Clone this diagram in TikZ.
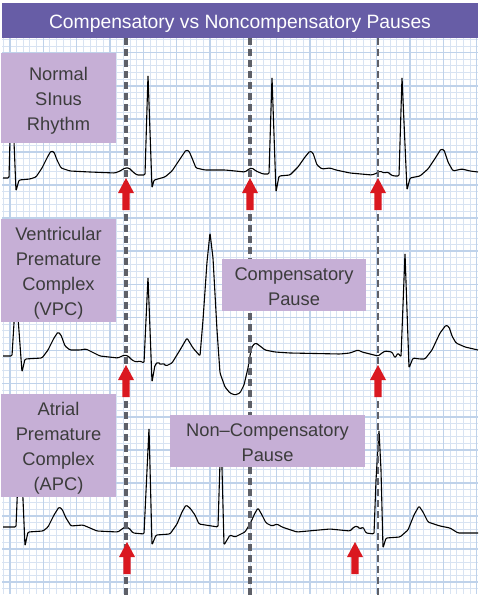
\documentclass[tikz,border=0pt]{standalone}
\usepackage{fontspec}
\setmainfont{Liberation Sans}
\definecolor{titlebar}{HTML}{675DA6}
\definecolor{lilac}{HTML}{C6AFD6}
\definecolor{gridminor}{HTML}{D8E3F2}
\definecolor{gridmajor}{HTML}{BFD2EA}
\definecolor{dashgray}{HTML}{5E6068}
\definecolor{arrowred}{HTML}{DA1820}
\definecolor{labeltext}{HTML}{3C3C3C}
\tikzset{
  labelbox/.style={fill=lilac, inner sep=0pt},
  labeltxt/.style={text=labeltext, align=center, inner sep=0pt,
    font=\fontsize{18.3}{25}\selectfont},
  ecg/.style={black, line width=1.1pt, line join=round, rounded corners=1.2pt},
  pausedash/.style={draw=dashgray, line width=3.2pt, dash pattern=on 7pt off 4pt},
  minorline/.style={gridminor, line width=1pt},
  majorline/.style={gridmajor, line width=1.6pt},
  redarrow/.pic={\fill[arrowred] (0,0) -- (8,15) -- (3.6,15) -- (3.6,32) -- (-3.6,32) -- (-3.6,15) -- (-8,15) -- cycle;}
}
\begin{document}
\begin{tikzpicture}[x=1pt,y=-1pt]
\useasboundingbox (0,0) rectangle (481,597);
\fill[white] (0,0) rectangle (481,597);
% grid
\begin{scope}
\clip (2,38) rectangle (478,594);
\foreach \i in {0,...,71} {\draw[minorline] ({3.33+6.667*\i},38) -- ({3.33+6.667*\i},594);}
\foreach \j in {0,...,83} {\draw[minorline] (2,{39.4+6.62*\j}) -- (478,{39.4+6.62*\j});}
\foreach \i in {1,6,...,71} {\draw[majorline] ({3.33+6.667*\i},38) -- ({3.33+6.667*\i},594);}
\foreach \j in {2,7,...,82} {\draw[majorline] (2,{39.4+6.62*\j}) -- (478,{39.4+6.62*\j});}
\end{scope}
% row 1: normal sinus rhythm
\draw[ecg] (3,178) -- (9,178) -- (11.5,80) -- (16,191) -- (19,180) -- (30,179) -- (36,177) -- (42,168) -- (48,156) -- (51,151) -- (54,152) -- (57,160) -- (61,168) -- (70,171) -- (90,172) -- (115,173) -- (120,171) -- (125,168) -- (129,168) -- (133,172) -- (137,175) -- (145,175) -- (148,75) -- (152,188) -- (154,180) -- (165,177) -- (172,171) -- (180,159) -- (186,150) -- (189,151) -- (192,158) -- (196,168) -- (205,170) -- (225,170) -- (245,172) -- (249,169) -- (252,168) -- (256,171) -- (263,174) -- (269,174) -- (272,77) -- (276,192) -- (279,176) -- (290,175) -- (298,167) -- (305,157) -- (310,151) -- (313,153) -- (317,165) -- (322,169) -- (330,168) -- (336,170) -- (350,173) -- (372,175) -- (377,173) -- (380,171) -- (384,173) -- (388,172) -- (391,175) -- (394,176) -- (399,176) -- (402,77) -- (407,190) -- (410,178) -- (420,176) -- (428,169) -- (436,157) -- (441,149) -- (444,150) -- (448,162) -- (453,171) -- (462,169) -- (470,171) -- (478,172);
% row 2: VPC
\draw[ecg] (3,356) -- (12,356) -- (16,290) -- (22,372) -- (25,359) -- (42,358) -- (48,350) -- (54,338) -- (58,332) -- (61,335) -- (65,346) -- (70,350) -- (80,350) -- (86,349) -- (92,352) -- (100,356) -- (118,358) -- (122,356) -- (125,355) -- (128,356) -- (132,360) -- (136,362) -- (140,361) -- (144,363) -- (148,277) -- (152,382) -- (155,365) -- (158,362) -- (161,365) -- (163,363) -- (166,366) -- (172,363) -- (180,350) -- (187,338) -- (193,348) -- (200,356) -- (203,320) -- (207,262) -- (210,233) -- (213,258) -- (217,330) -- (220,373) -- (225,387) -- (230,393) -- (235,395) -- (240,393) -- (244,385) -- (248,368) -- (251,350) -- (253,345) -- (256,343) -- (260,346) -- (265,350) -- (275,352) -- (290,353) -- (340,354) -- (350,353) -- (358,350) -- (362,352) -- (370,354) -- (378,356) -- (382,353) -- (385,351) -- (392,352) -- (395,358) -- (398,353) -- (401,357) -- (405,253) -- (409,368) -- (413,358) -- (420,359) -- (425,359) -- (432,350) -- (440,333) -- (446,325) -- (449,327) -- (452,336) -- (456,343) -- (465,347) -- (478,350);
% row 3: APC
\draw[ecg] (3,527) -- (16,527) -- (20,430) -- (25,546) -- (28,532) -- (43,531) -- (48,527) -- (54,515) -- (59,507) -- (62,509) -- (66,518) -- (71,526) -- (83,525) -- (90,528) -- (97,531) -- (118,532) -- (122,529) -- (125,527) -- (129,528) -- (133,533) -- (144,534) -- (149,428) -- (152,545) -- (156,535) -- (170,534) -- (177,524) -- (182,512) -- (186,505) -- (190,508) -- (195,515) -- (199,524) -- (218,527) -- (221,430) -- (224,545) -- (230,535) -- (235,537) -- (245,532) -- (250,524) -- (255,513) -- (258,508) -- (262,515) -- (266,523) -- (272,526) -- (277,524) -- (282,527) -- (297,532) -- (330,529) -- (350,531) -- (354,527) -- (357,526) -- (360,529) -- (363,527) -- (366,533) -- (374,534) -- (376,480) -- (379,430) -- (381,470) -- (383,548) -- (386,538) -- (400,537) -- (408,530) -- (414,515) -- (419,506) -- (423,512) -- (428,522) -- (440,526) -- (450,528) -- (458,533) -- (478,533);
% dashed guide lines
\path[pausedash] (126,38) -- (126,597);
\path[pausedash] (250,38) -- (250,597);
\path[pausedash, line width=2.4pt] (378,38) -- (378,597);
% label boxes
\node[labelbox, minimum width=115pt, minimum height=90pt] (nsr) at (58.5,98) {};
\node[labeltxt] (nsrtext) at ([yshift=-2.5pt]nsr.center) {Normal\\SInus\\Rhythm};
\node[labelbox, minimum width=115pt, minimum height=103pt] (vpc) at (58.5,270.5) {};
\node[labeltxt] (vpctext) at ([yshift=-2.5pt]vpc.center) {Ventricular\\Premature\\Complex\\(VPC)};
\node[labelbox, minimum width=115pt, minimum height=103pt] (apc) at (58.5,445.5) {};
\node[labeltxt] (apctext) at ([yshift=-2.5pt]apc.center) {Atrial\\Premature\\Complex\\(APC)};
\node[labelbox, minimum width=144pt, minimum height=52pt] (comp) at (294,285) {};
\node[labeltxt] (comptext) at ([yshift=-2pt]comp.center) {Compensatory\\Pause};
\node[labelbox, minimum width=195pt, minimum height=52pt] (noncomp) at (267.5,441) {};
\node[labeltxt] (noncomptext) at ([yshift=-2pt]noncomp.center) {Non--Compensatory\\Pause};
% red arrows
\pic at (126,178) {redarrow};
\pic at (250,178) {redarrow};
\pic at (378,178) {redarrow};
\pic at (126,365) {redarrow};
\pic at (378,365) {redarrow};
\pic at (127,542) {redarrow};
\pic at (355,542) {redarrow};
% title
\fill[titlebar] (2,3) rectangle (478,38);
\node[text=white, font=\fontsize{19.3}{22}\selectfont, anchor=base, inner sep=0pt] (title) at (240,28.3) {Compensatory vs Noncompensatory Pauses};
\end{tikzpicture}
\end{document}
